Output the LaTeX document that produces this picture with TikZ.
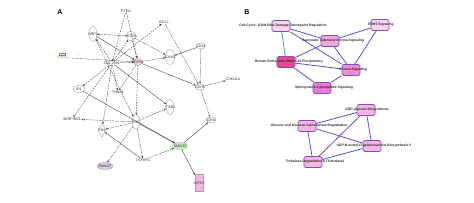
\documentclass[tikz,border=0pt]{standalone}
\usepackage{fontspec}
\setsansfont{Liberation Sans}
\usepackage{tikz}
\usetikzlibrary{arrows.meta,shapes.geometric}
\definecolor{ipaGreen}{RGB}{196,238,186}
\definecolor{ipaGreenDark}{RGB}{70,160,60}
\definecolor{ipaPink}{RGB}{244,184,224}
\definecolor{ipaLilac}{RGB}{226,200,236}
\definecolor{pwBorder}{RGB}{118,84,186}
\definecolor{pwEdge}{RGB}{92,80,206}
\definecolor{pwEdgeLight}{RGB}{84,140,226}
\definecolor{pwPale}{RGB}{250,212,240}
\definecolor{pwMid}{RGB}{243,166,218}
\definecolor{pwHot}{RGB}{232,70,143}
\definecolor{pwRose}{RGB}{240,140,214}
\definecolor{pwViolet}{RGB}{234,122,214}
\definecolor{pwSoft}{RGB}{246,180,228}

\begin{document}
\begin{tikzpicture}[
  x=1pt,y=-1pt,
  genetext/.style={inner sep=0.3pt,font=\sffamily\fontsize{3.6}{4}\selectfont,text=black!80},
  gene/.style={ellipse,draw=black!45,line width=0.3pt,inner sep=0pt,minimum width=10,minimum height=6,
    label={[genetext]center:#1}},
  tallgene/.style={gene=#1,minimum width=8,minimum height=15},
  plain/.style={genetext},
  link/.style={-{Stealth[length=2.4pt,width=2pt]},draw=black!72,line width=0.4pt,dash pattern=on 1.6pt off 1pt},
  solidlink/.style={-{Stealth[length=2.4pt,width=2pt]},draw=black!72,line width=0.4pt},
  pathway/.style={draw=pwBorder,rounded corners=1.6pt,line width=0.7pt,minimum width=18,minimum height=11,inner sep=0pt},
  pwtext/.style={inner sep=0pt,font=\sffamily\bfseries\fontsize{3.4}{4}\selectfont,text=black!85},
  overlap/.style={draw=pwEdge,line width=0.8pt},
  panel/.style={font=\sffamily\bfseries\fontsize{7}{8}\selectfont}
]
  \useasboundingbox (0,0) rectangle (474,203);

  \node[panel] (labA) at (60,12) {A};
  \node[panel] (labB) at (247,12) {B};

  % Panel A: molecule network.
  \node[plain] (pten) at (126,11) {PTEN};
  \node[plain] (bcl2) at (164,22) {BCL2};
  \node[gene=VEGFA,minimum width=9,minimum height=10] (vegfa) at (131,36) {};
  \node[tallgene=NRP1] (nrp1) at (93,34) {};
  \node[draw=ipaGreenDark,line width=0.3pt,dash pattern=on 0.6pt off 0.4pt,minimum width=6,minimum height=2,inner sep=0pt] (fgfbox) at (62,54) {};
  \node[plain,text=ipaGreenDark] (fgf8) at (62,57.5) {FGF8};
  \node[plain] (col) at (112,63) {COL18A1};
  \node[gene=TGFB1,fill=ipaPink!60,minimum width=8,minimum height=7] (tgfb) at (138,62) {};
  \node[tallgene=ICAM1,minimum width=9] (icam) at (170,57) {};
  \node[gene=CD44,minimum width=9] (cd44) at (201,46) {};
  \node[gene=CDH1,minimum width=9] (cdh1) at (200,87) {};
  \node[plain] (cdkn) at (233,79) {CDKN1A};
  \node[gene=ID1,minimum width=12,minimum height=7] (id1) at (79,89) {};
  \node[plain] (thbs) at (118,92) {THBS1};
  \node[tallgene=ITGB3] (itgb) at (170,107) {};
  \node[plain] (serp) at (72,119) {SERPINE1};
  \node[tallgene=ENG,minimum height=14] (eng) at (136,122) {};
  \node[diamond,draw=black!45,line width=0.3pt,inner sep=0pt,minimum width=8,minimum height=14,
    label={[genetext]center:FN1}] (fn1) at (102,130) {};
  \node[gene=CDH2,minimum width=9] (cdh2) at (211,120) {};
  \node[gene=SMAD3,fill=ipaGreen,draw=ipaGreenDark!60,minimum width=15,minimum height=7] (smad3) at (180,146) {};
  \node[plain] (tgfbr) at (143,160) {TGFBR1};
  \node[gene=SMAD7,fill=ipaLilac,minimum width=16,minimum height=7] (smad7) at (105,166) {};
  \node[rectangle,fill=ipaPink,draw=ipaPink!80!black,line width=0.2pt,minimum width=8,minimum height=17,inner sep=0pt,
    label={[genetext]center:S1PR1}] (s1pr) at (199,183) {};

  \foreach \a/\b in {pten/col,pten/tgfb,vegfa/nrp1,vegfa/icam,vegfa/tgfb,col/nrp1,col/bcl2,col/vegfa,
      fgf8/tgfb,col/tgfb,tgfb/icam,cd44/cdh1,bcl2/cdh1,cdh1/cdkn,cdh1/cdh2,col/id1,col/thbs,col/serp,
      col/fn1,tgfb/eng,tgfb/thbs,eng/serp,eng/fn1,eng/itgb,eng/tgfbr,eng/smad7,tgfbr/smad3,nrp1/eng}
    \draw[link] (\a) -- (\b);
  \foreach \a/\b in {nrp1/tgfb,cd44/icam,tgfb/cdh1,col/itgb,eng/smad3,tgfbr/fn1,smad3/cdh2,smad3/s1pr,id1/smad3}
    \draw[solidlink] (\a) -- (\b);

  % Panel B: overlapping canonical pathways.
  \node[pathway,fill=pwPale] (cc) at (281,26) {};
  \node[pathway,fill=pwMid] (pan) at (330,41) {};
  \node[pathway,fill=pwPale] (erk) at (380,25) {};
  \node[pathway,fill=pwHot] (hesc) at (286,62) {};
  \node[pathway,fill=pwRose] (gli) at (351,70) {};
  \node[pathway,fill=pwViolet] (s1p) at (322,88) {};

  \node[pathway,fill=pwSoft] (gdp) at (366,110) {};
  \node[pathway,fill=pwSoft] (glc) at (307,126) {};
  \node[pathway,fill=pwSoft] (udp) at (372,146) {};
  \node[pathway,fill=pwSoft] (tre) at (313,162) {};

  \draw[overlap,draw=pwEdgeLight] (cc) -- (hesc);
  \foreach \a/\b in {cc/pan,cc/gli,pan/erk,pan/hesc,pan/gli,erk/gli,hesc/gli,hesc/s1p,gli/s1p,
      gdp/glc,gdp/udp,gdp/tre,glc/udp,glc/tre,tre/udp}
    \draw[overlap] (\a) -- (\b);

  \node[pwtext] (cc-t) at (283,26) {Cell Cycle: G2/M DNA Damage Checkpoint Regulation};
  \node[pwtext] (pan-t) at (333,41) {Pancreatic Adenocarcinoma Signaling};
  \node[pwtext] (erk-t) at (381,25) {ERK5 Signaling};
  \node[pwtext] (hesc-t) at (289,62) {Human Embryonic Stem Cell Pluripotency};
  \node[pwtext] (gli-t) at (353,70) {Glioma Signaling};
  \node[pwtext] (s1p-t) at (324,88) {Sphingosine-1-phosphate Signaling};
  \node[pwtext] (gdp-t) at (367,110) {GDP-glucose Biosynthesis};
  \node[pwtext] (glc-t) at (309,126) {Glucose and Glucose-1-phosphate Degradation};
  \node[pwtext] (udp-t) at (374,146) {UDP-N-acetyl-D-galactosamine Biosynthesis II};
  \node[pwtext] (tre-t) at (315,162) {Trehalose Degradation II (Trehalase)};
\end{tikzpicture}
\end{document}
